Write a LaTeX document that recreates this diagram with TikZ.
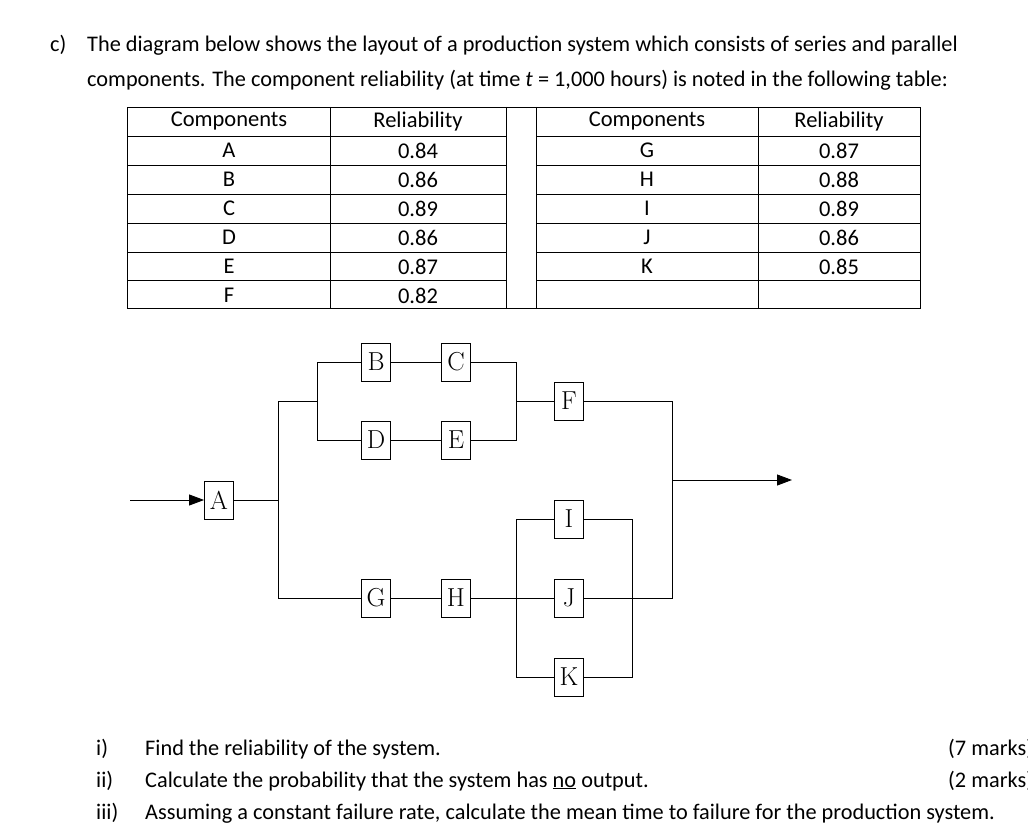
\documentclass[tikz,border=0pt]{standalone}
\usepackage{fontspec}
\setmainfont{Carlito}
\newfontfamily\lmr{Latin Modern Roman}
\usetikzlibrary{arrows.meta}
\begin{document}
\begin{tikzpicture}[x=1pt,y=-1pt,
  comp/.style={draw,line width=0.9pt,minimum width=29pt,minimum height=38pt,inner sep=0pt,font=\lmr\fontsize{26}{26}\selectfont},
  wire/.style={draw,line width=0.9pt},
  txt/.style={anchor=base west,inner sep=0pt,font=\fontsize{22.3}{24}\selectfont},
  cell/.style={inner sep=0pt,font=\fontsize{22.5}{24}\selectfont}]
\useasboundingbox[fill=white] (0,0) rectangle (1028,837);
% heading
\node[txt] (c) at (50,52) {c)};
\node[txt] (l1) at (87,52) {The diagram below shows the layout of a production system which consists of series and parallel};
\node[txt] (l2) at (87,87) {components. The component reliability (at time \textit{t} = 1,000 hours) is noted in the following table:};
% table
\draw[line width=0.8pt] (127,107) rectangle (920,308);
\foreach \x in {330,506,536,758} \draw[line width=0.8pt] (\x,107) -- (\x,308);
\foreach \y in {136,165,194,223,252,280} {\draw[line width=0.8pt] (127,\y) -- (506,\y); \draw[line width=0.8pt] (536,\y) -- (920,\y);}
\foreach \n/\a/\b/\c/\d [count=\i] in {Components/Reliability/Components/Reliability, A/0.84/G/0.87, B/0.86/H/0.88, C/0.89/I/0.89, D/0.86/J/0.86, E/0.87/K/0.85, F/0.82/{}/{}}{
  \node[cell] (t\i a) at (229,{107+29*(\i-1)+14.5}) {\n};
  \node[cell] (t\i b) at (418,{107+29*(\i-1)+14.5}) {\a};
  \node[cell] (t\i c) at (647,{107+29*(\i-1)+14.5}) {\b};
  \node[cell] (t\i d) at (839,{107+29*(\i-1)+14.5}) {\c};
}
% diagram
\node[comp] (A) at (219,500) {A};
\node[comp] (B) at (376,362) {B};
\node[comp] (C) at (456,362) {C};
\node[comp] (D) at (376,440) {D};
\node[comp] (E) at (456,440) {E};
\node[comp] (F) at (569,401) {F};
\node[comp] (G) at (376,598) {G};
\node[comp] (H) at (456,598) {H};
\node[comp] (I) at (569,519) {I};
\node[comp] (J) at (569,598) {J};
\node[comp] (K) at (569,677) {K};
\coordinate (in) at (130,500);
\coordinate (out) at (792,480);
\coordinate (s1) at (278,500);
\coordinate (s2) at (317,401);
\coordinate (m1) at (516,401);
\coordinate (r) at (672,480);
\draw[line width=0.9pt,-{Triangle[length=15pt,width=11pt]}] (in) -- (A.west);
\draw[line width=0.9pt,-{Triangle[length=15pt,width=11pt]}] (r) -- (out);
\path[wire] (A.east) -- (s1) (s1) |- (s2) (s1) |- (G.west);
\path[wire] (s2) |- (B.west) (s2) |- (D.west);
\path[wire] (B) -- (C) (D) -- (E) (G) -- (H);
\path[wire] (C.east) -| (m1) (E.east) -| (m1) (m1) -- (F.west);
\path[wire] (F.east) -| (r) (J.east) -| (r);
\path[wire] (H.east) -- (J.west);
\path[wire] (I.west) -| (516,598) (K.west) -| (516,598);
\path[wire] (I.east) -| (632,598) (K.east) -| (632,598);
% questions
\node[txt] (q1n) at (96,755) {i)};
\node[txt] (q1) at (145,755) {Find the reliability of the system.};
\node[txt] (q1m) at (948,755) {(7 marks)};
\node[txt] (q2n) at (96,787) {ii)};
\node[txt] (q2) at (145,787) {Calculate the probability that the system has \underline{no} output.};
\node[txt] (q2m) at (948,787) {(2 marks)};
\node[txt] (q3n) at (96,819) {iii)};
\node[txt] (q3) at (145,819) {Assuming a constant failure rate, calculate the mean time to failure for the production system.};
\end{tikzpicture}
\end{document}
